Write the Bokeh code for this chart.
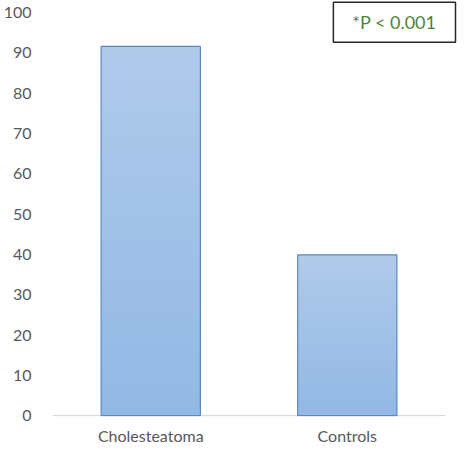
from bokeh.plotting import figure
from bokeh.models import Label, FixedTicker, Range1d
from bokeh.embed import file_html
from bokeh.resources import INLINE

categories = ["Cholesteatoma", "Controls"]
values = [91.6, 39.9]
y_ticks = list(range(0, 101, 10))
annotation_text = "*P < 0.001"

FONT = "Lato"
N_SLICES = 60
TOP_RGB = (176, 202, 234)
BOT_RGB = (146, 184, 228)

xpos = [i + 0.5 for i in range(len(categories))]

p = figure(width=458, height=447, x_range=Range1d(0, 2.066), y_range=Range1d(-0.2, 103),
           output_backend="svg", toolbar_location=None,
           min_border_left=49, min_border_right=0, min_border_top=0, min_border_bottom=28)
p.outline_line_color = None
p.xgrid.grid_line_color = None
p.ygrid.grid_line_color = None
p.background_fill_color = "white"

# baseline (category axis line) under the bars
p.segment(x0=[0], x1=[len(categories)], y0=[0], y1=[0], line_color="#d9d9d9", line_width=1.3)

# gradient fill per bar, built as thin overlapping slices of each bar's value
xs, bottoms, tops, colors = [], [], [], []
for x, v in zip(xpos, values):
    for i in range(N_SLICES):
        f0 = i / N_SLICES
        f1 = min(1.0, (i + 1.6) / N_SLICES)
        t = (i + 0.5) / N_SLICES
        r = round(BOT_RGB[0] + (TOP_RGB[0] - BOT_RGB[0]) * t)
        g = round(BOT_RGB[1] + (TOP_RGB[1] - BOT_RGB[1]) * t)
        b = round(BOT_RGB[2] + (TOP_RGB[2] - BOT_RGB[2]) * t)
        xs.append(x)
        bottoms.append(v * f0)
        tops.append(v * f1)
        colors.append("#%02x%02x%02x" % (r, g, b))
p.vbar(x=xs, bottom=bottoms, top=tops, width=0.505, fill_color=colors, line_color=None)
p.vbar(x=xpos, top=values, width=0.505, fill_color=None, line_color="#5b88c4", line_width=1.2)

p.yaxis.ticker = FixedTicker(ticks=y_ticks)
p.yaxis.axis_line_color = None
p.yaxis.major_tick_line_color = None
p.yaxis.minor_tick_line_color = None
p.yaxis.major_label_standoff = 15
p.yaxis.major_label_text_font = FONT
p.yaxis.major_label_text_font_size = "16px"
p.yaxis.major_label_text_color = "#595959"

p.xaxis.ticker = FixedTicker(ticks=xpos)
p.xaxis.major_label_overrides = {x: c for x, c in zip(xpos, categories)}
p.xaxis.axis_line_color = None
p.xaxis.major_tick_line_color = None
p.xaxis.minor_tick_line_color = None
p.xaxis.major_label_standoff = 3
p.xaxis.major_label_text_font = FONT
p.xaxis.major_label_text_font_size = "16px"
p.xaxis.major_label_text_color = "#595959"

lab = Label(x=1.74, y=97.6, text=annotation_text, text_align="center", text_baseline="middle",
            text_font=FONT, text_font_size="18px", text_color="#548235",
            border_line_color="#262626", border_line_width=1.5,
            background_fill_color="white", padding=dict(left=19, right=19, top=9, bottom=9))
p.add_layout(lab)

open("out.html", "w").write(file_html(p, INLINE))
